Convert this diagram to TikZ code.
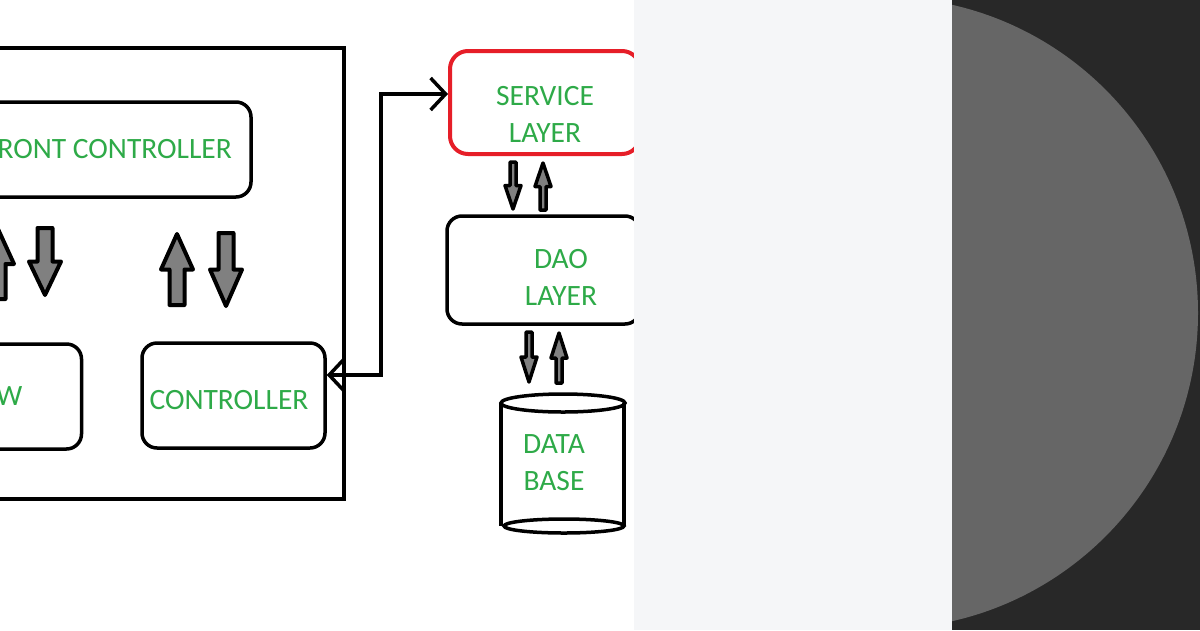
\documentclass[tikz,border=0pt]{standalone}
\usepackage{fontspec}
\setmainfont{Carlito}
\usetikzlibrary{arrows.meta}
\definecolor{txtgreen}{RGB}{46,170,72}
\definecolor{boxred}{RGB}{230,30,40}
\definecolor{arrgray}{RGB}{128,128,128}
\definecolor{panel}{HTML}{F5F6F8}
\definecolor{dark}{HTML}{282828}
\definecolor{disc}{HTML}{666666}
% style, x, tail y, tip y, shaft half width, head half width
\newcommand{\blockarrow}[6]{%
	\draw[#1]({#2-#5},#3)--({#2+#5},#3)--({#2+#5},{(#3+#4)/2})--({#2+#6},{(#3+#4)/2})--(#2,#4)--({#2-#6},{(#3+#4)/2})--({#2-#5},{(#3+#4)/2})--cycle;}
\begin{document}
\begin{tikzpicture}[x=1pt,y=-1pt,
	box/.style={draw,line width=3.5pt,rounded corners=15pt,minimum width=183pt,minimum height=105pt},
	lbl/.style={text=txtgreen,font=\fontsize{29.5}{37}\selectfont,align=center,inner sep=0pt},
	bigarr/.style={draw,fill=arrgray,line width=4pt,line join=round},
	smallarr/.style={draw,fill=arrgray,line width=3.5pt,line join=round},
	conn/.style={line width=3.5pt,{Straight Barb[length=15pt,width=32pt]}-{Straight Barb[length=15pt,width=32pt]}}]
	\useasboundingbox(0,0)rectangle(1200,630);
	\clip(0,0)rectangle(1200,630);
	\fill[white](0,0)rectangle(1200,630);
	\draw[line width=4pt](-10,48)rectangle(344,499);
	\node[box,lbl,minimum width=286pt,minimum height=95pt](front)at(108,149.5){FRONT CONTROLLER};
	\node[box,lbl](view)at(-10,396.5){VIEW};
	\node[box](ctrl)at(233.5,395.5){};
	\node[lbl](ctrltxt)at(229,400){CONTROLLER};
	\node[box,draw=boxred,line width=4pt,rounded corners=18pt,minimum width=190pt,minimum height=103pt](service)at(545,102.5){};
	\node[lbl](servicetxt)at(545,114){SERVICE\\LAYER};
	\node[box,minimum width=193pt,minimum height=108pt](dao)at(543.5,270){};
	\node[lbl](daotxt)at(561,277){DAO\\LAYER};
	\blockarrow{bigarr}{-2}{299}{229}{7.5}{16}
	\blockarrow{bigarr}{45}{228}{295}{7.5}{16}
	\blockarrow{bigarr}{177}{305}{234}{7.5}{16}
	\blockarrow{bigarr}{226}{233}{306}{7.5}{16}
	\blockarrow{smallarr}{513}{162}{209}{3}{8}
	\blockarrow{smallarr}{543}{210}{163}{3}{8}
	\blockarrow{smallarr}{529}{332}{382}{3}{8}
	\blockarrow{smallarr}{559}{383}{333}{3}{8}
	\draw[line width=3.5pt](501,403)--(501,526)(624,403)--(624,526);
	\draw[line width=3.5pt](563,403)ellipse[x radius=62pt,y radius=9pt];
	\draw[line width=3.5pt](564,526)ellipse[x radius=60pt,y radius=7pt];
	\node[lbl](db)at(554,463){DATA\\BASE};
	\coordinate(jogb)at(381,375);
	\coordinate(jogt)at(381,94);
	\draw[conn](ctrl.east|-jogb)--(jogb)--(jogt)--(service.west|-jogt);
	\fill[panel](634,0)rectangle(952,630);
	\fill[dark](952,0)rectangle(1200,630);
	\begin{scope}
		\clip(952,0)rectangle(1200,630);
		\fill[disc](882,313)circle[radius=316pt];
	\end{scope}
\end{tikzpicture}
\end{document}
